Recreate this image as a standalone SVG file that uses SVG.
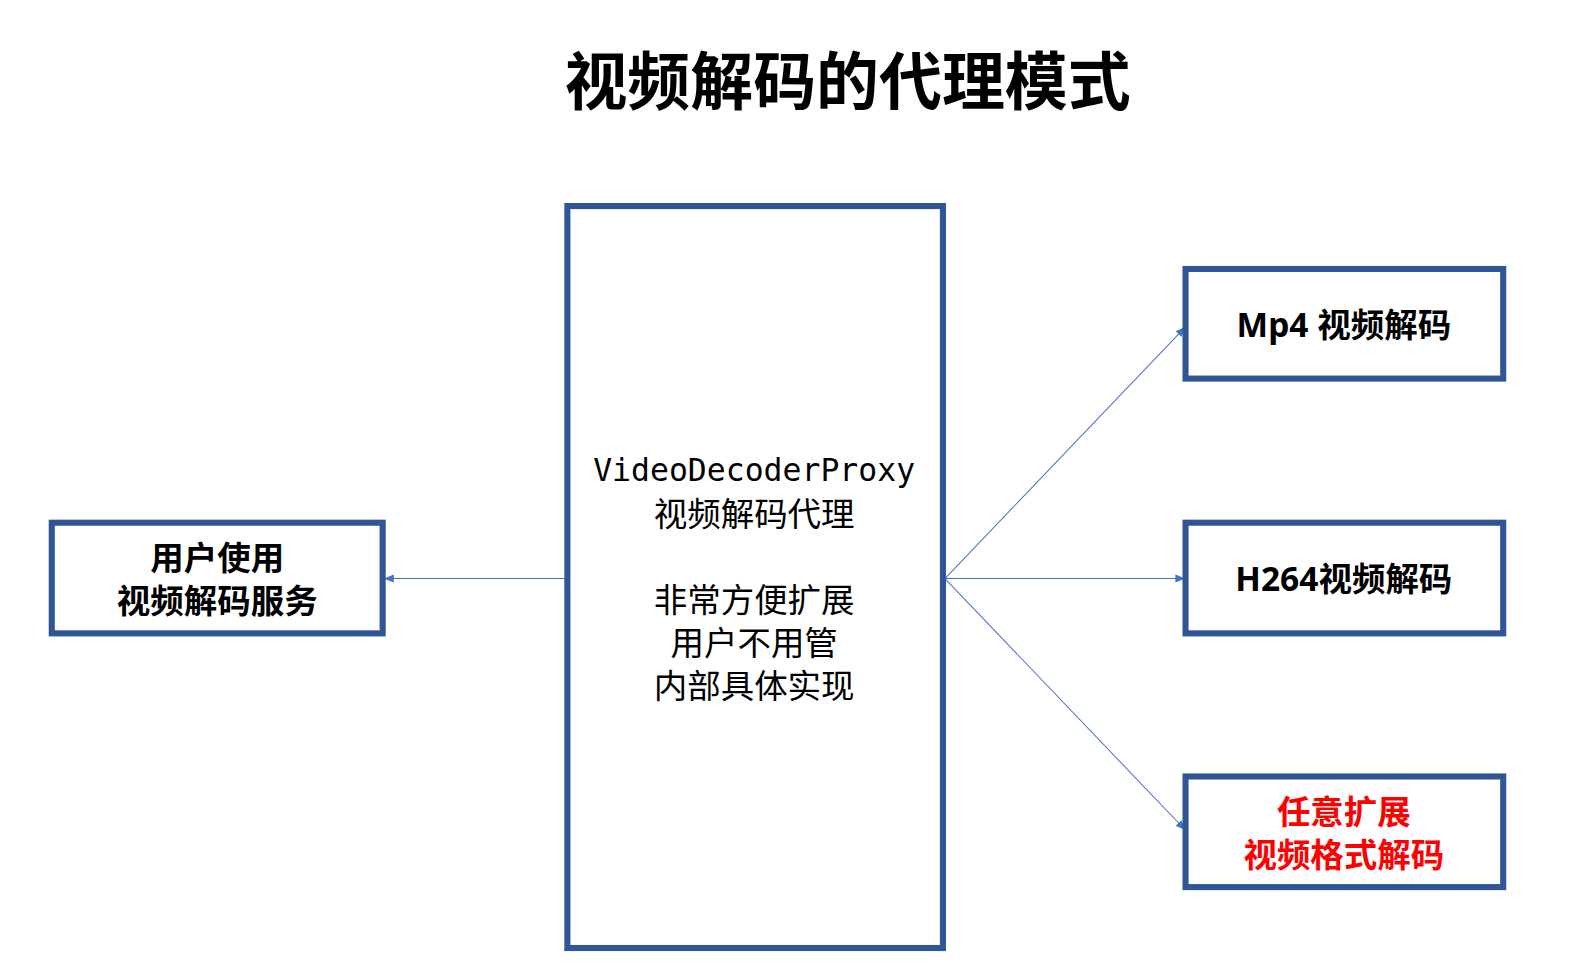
<svg xmlns="http://www.w3.org/2000/svg" width="1593" height="968" viewBox="0 0 1593 968">
<style>
.box{fill:#fff;stroke:#2F5597;stroke-width:6}
.t{font-family:"Noto Sans","Noto Sans CJK SC",sans-serif;text-anchor:middle;fill:#000}
.b{font-weight:bold;font-size:33px}
.c{stroke:#4472C4;stroke-width:1;fill:none;marker-end:url(#a)}
</style>
<defs><marker id="a" viewBox="0 0 10 10" refX="10" refY="5" markerWidth="10" markerHeight="10" markerUnits="userSpaceOnUse" orient="auto"><path d="M0,1 L10,5 L0,9z" fill="#4472C4"/></marker></defs>
<rect width="1593" height="968" fill="#fff"/>
<g transform="scale(1.015)">
<text class="t" x="835" y="102" font-size="62" font-weight="bold">视频解码的代理模式</text>
<g id="connectors">
<line class="c" x1="557" y1="570" x2="378" y2="570"/>
<line class="c" x1="931" y1="570" x2="1168" y2="322"/>
<line class="c" x1="931" y1="570" x2="1168" y2="570"/>
<line class="c" x1="931" y1="570" x2="1168" y2="818"/>
</g>
<g id="user"><rect class="box" x="51" y="515" width="326" height="109"/>
<text class="t b" x="214" y="562">用户使用</text><text class="t b" x="214" y="604">视频解码服务</text></g>
<g id="proxy"><rect class="box" x="559" y="203" width="370" height="731"/>
<text x="743" y="474" text-anchor="middle" font-family="DejaVu Sans Mono,monospace" font-size="31">VideoDecoderProxy</text>
<g class="t" font-size="33"><text x="743" y="518">视频解码代理</text><text x="743" y="603">非常方便扩展</text><text x="743" y="645">用户不用管</text><text x="743" y="688">内部具体实现</text></g></g>
<g id="mp4"><rect class="box" x="1168" y="265" width="313" height="108"/><text class="t b" x="1324" y="332">Mp4 视频解码</text></g>
<g id="h264"><rect class="box" x="1168" y="515" width="313" height="109"/><text class="t b" x="1324" y="582">H264视频解码</text></g>
<g id="any"><rect class="box" x="1168" y="765" width="313" height="109"/>
<text class="t b" x="1324" y="812" style="fill:#FF0000">任意扩展</text><text class="t b" x="1324" y="854" style="fill:#FF0000">视频格式解码</text></g>
</g>
</svg>
